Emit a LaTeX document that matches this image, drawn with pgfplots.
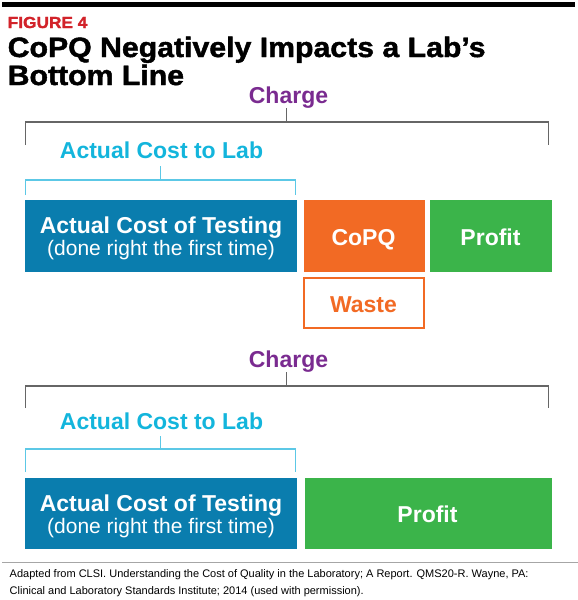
\documentclass[border=0pt]{standalone}
\usepackage{pgfplots}
\pgfplotsset{compat=1.18}
\usepackage{fontspec}
\setmainfont{Liberation Sans}
\newfontfamily\blackfont[FakeStretch=1.08,FakeBold=1.6]{Liberation Sans Bold}

\definecolor{figred}{HTML}{D2232A}
\definecolor{chargepurple}{HTML}{7A2B90}
\definecolor{labcyan}{HTML}{13B5DC}
\definecolor{brackcyan}{HTML}{5CC8E6}
\definecolor{testblue}{HTML}{0A7DAE}
\definecolor{copqorange}{HTML}{F26A24}
\definecolor{profitgreen}{HTML}{3BB44A}
\definecolor{brackgray}{HTML}{666666}

\begin{document}
\begin{tikzpicture}
\begin{axis}[
    hide axis,
    scale only axis,
    width=575pt, height=600pt,
    xmin=0, xmax=575,
    ymin=0, ymax=600,
    y dir=reverse,
    clip=false,
]
% frame of the page
\path (rel axis cs:0,0) rectangle (rel axis cs:1,1);

% top rule and bottom rule
\addplot[black, line width=5pt] coordinates {(0,4.5)(572,4.5)};
\addplot[gray!70, line width=1pt] coordinates {(0,562)(575,562)};

% titles
\node[anchor=base west, text=figred, font=\blackfont\fontsize{16}{18}\selectfont, inner sep=0pt]
  at (axis cs:5,28) {FIGURE 4};
\node[anchor=base west, font=\blackfont\fontsize{28}{30}\selectfont, inner sep=0pt]
  at (axis cs:5,57) {CoPQ Negatively Impacts a Lab’s};
\node[anchor=base west, font=\blackfont\fontsize{28}{30}\selectfont, inner sep=0pt]
  at (axis cs:5,85) {Bottom Line};

% ---- upper diagram ----
% charge bracket
\addplot[brackgray, line width=1.1pt] coordinates {(23,145)(23,122)(546,122)(546,145)};
\addplot[brackgray, line width=1.1pt] coordinates {(284,108)(284,122)};
% cost to lab bracket
\addplot[brackcyan, line width=1.1pt] coordinates {(23,195)(23,180)(293,180)(293,195)};
\addplot[brackcyan, line width=1.1pt] coordinates {(158,166)(158,180)};
% boxes
\addplot[fill=testblue, draw=none] coordinates {(23,200)(294,200)(294,272)(23,272)} -- cycle;
\addplot[fill=copqorange, draw=none] coordinates {(301,200)(422,200)(422,272)(301,272)} -- cycle;
\addplot[fill=profitgreen, draw=none] coordinates {(427,200)(549,200)(549,272)(427,272)} -- cycle;
\addplot[draw=copqorange, line width=2pt, fill=white] coordinates {(301,278)(421,278)(421,328)(301,328)} -- cycle;

\node[anchor=base, text=chargepurple, font=\bfseries\fontsize{23}{25}\selectfont, inner sep=0pt]
  at (axis cs:286,103) {Charge};
\node[anchor=base, text=labcyan, font=\bfseries\fontsize{23}{25}\selectfont, inner sep=0pt]
  at (axis cs:159,158) {Actual Cost to Lab};
\node[anchor=base, text=white, font=\bfseries\fontsize{23}{25}\selectfont, inner sep=0pt]
  at (axis cs:158.5,233) {Actual Cost of Testing};
\node[anchor=base, text=white, font=\fontsize{21}{23}\selectfont, inner sep=0pt]
  at (axis cs:158.5,255) {(done right the first time)};
\node[anchor=base, text=white, font=\bfseries\fontsize{23}{25}\selectfont, inner sep=0pt]
  at (axis cs:361,245) {CoPQ};
\node[anchor=base, text=white, font=\bfseries\fontsize{23}{25}\selectfont, inner sep=0pt]
  at (axis cs:488,245) {Profit};
\node[anchor=base, text=copqorange, font=\bfseries\fontsize{23}{25}\selectfont, inner sep=0pt]
  at (axis cs:361,312) {Waste};

% ---- lower diagram ----
\addplot[brackgray, line width=1.1pt] coordinates {(23,408)(23,386)(546,386)(546,408)};
\addplot[brackgray, line width=1.1pt] coordinates {(284,372)(284,386)};
\addplot[brackcyan, line width=1.1pt] coordinates {(23,472)(23,449)(293,449)(293,472)};
\addplot[brackcyan, line width=1.1pt] coordinates {(158,436)(158,449)};
\addplot[fill=testblue, draw=none] coordinates {(23,478)(294,478)(294,549)(23,549)} -- cycle;
\addplot[fill=profitgreen, draw=none] coordinates {(302,478)(549,478)(549,549)(302,549)} -- cycle;

\node[anchor=base, text=chargepurple, font=\bfseries\fontsize{23}{25}\selectfont, inner sep=0pt]
  at (axis cs:286,367) {Charge};
\node[anchor=base, text=labcyan, font=\bfseries\fontsize{23}{25}\selectfont, inner sep=0pt]
  at (axis cs:159,429) {Actual Cost to Lab};
\node[anchor=base, text=white, font=\bfseries\fontsize{23}{25}\selectfont, inner sep=0pt]
  at (axis cs:158.5,511) {Actual Cost of Testing};
\node[anchor=base, text=white, font=\fontsize{21}{23}\selectfont, inner sep=0pt]
  at (axis cs:158.5,533) {(done right the first time)};
\node[anchor=base, text=white, font=\bfseries\fontsize{23}{25}\selectfont, inner sep=0pt]
  at (axis cs:425,522) {Profit};

% source note
\node[anchor=base west, font=\fontsize{11}{12}\selectfont, inner sep=0pt]
  at (axis cs:7,577) {Adapted from CLSI. Understanding the Cost of Quality in the Laboratory; A Report. QMS20-R. Wayne, PA:};
\node[anchor=base west, font=\fontsize{11}{12}\selectfont, inner sep=0pt]
  at (axis cs:7,594) {Clinical and Laboratory Standards Institute; 2014 (used with permission).};
\end{axis}
\end{tikzpicture}
\end{document}
